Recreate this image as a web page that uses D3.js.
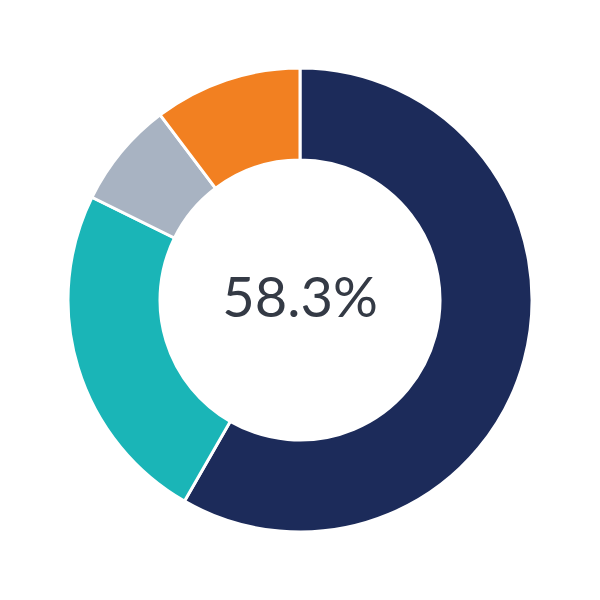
<!DOCTYPE html>
<html><head><meta charset="utf-8">
<script src="https://cdn.jsdelivr.net/npm/d3@7"></script>
<style>html,body{margin:0;padding:0;background:#fff;}</style>
</head><body>
<svg id="chart" width="600" height="600"></svg>
<script>
const categories = ["A", "B", "C", "D"];
const values = [58.3, 24.0, 7.4, 10.3];
const colors = ["#1c2b5a", "#1ab5b7", "#a8b3c2", "#f28021"];
const centerLabel = "58.3%";

const svg = d3.select("#chart");
const g = svg.append("g").attr("transform", "translate(300,300)");
const data = categories.map((c, i) => ({cat: c, value: values[i]}));
const pie = d3.pie().value(d => d.value).sort(null);
const arc = d3.arc().innerRadius(140).outerRadius(232);
const color = d3.scaleOrdinal().domain(categories).range(colors);
g.selectAll("path").data(pie(data)).join("path")
  .attr("d", arc)
  .attr("fill", d => color(d.data.cat))
  .attr("stroke", "#fff")
  .attr("stroke-width", 3);
g.append("text")
  .attr("text-anchor", "middle")
  .attr("y", 17)
  .attr("font-family", "Lato")
  .attr("font-size", 56)
  .attr("fill", "#343a45")
  .text(centerLabel);
</script>
</body></html>
